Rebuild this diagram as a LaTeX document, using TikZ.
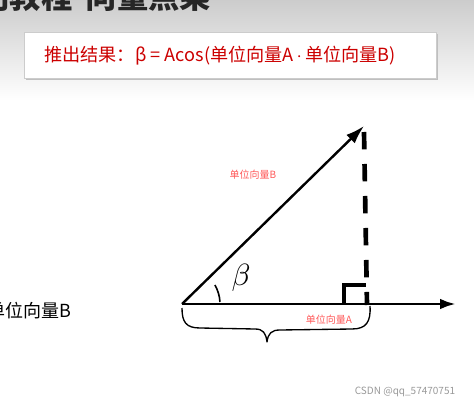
\documentclass[tikz,border=0pt]{standalone}
\usepackage{fontspec}
\setmainfont{Noto Sans CJK SC}
\usetikzlibrary{arrows.meta}

\begin{document}
\begin{tikzpicture}[x=0.75pt,y=-0.75pt,
    redtext/.style={text=red!80!black, font=\fontsize{13.6}{16}\selectfont},
    smalllabel/.style={text=red!65!white, font=\fontsize{7.5}{9}\selectfont},
    vecline/.style={line width=2.2pt, -{Latex[length=12pt,width=8pt]}}]

    % --- Page and slide background ---
    \useasboundingbox (0,0) rectangle (474,409);
    \shade[top color=black!20, bottom color=white] (0,0) rectangle (474,100);

    % Slide title, cut off by the top edge
    \node[anchor=east, text=black!85, font=\fontsize{23.5}{25}\selectfont\bfseries] (title) at (216,-3) {入门教程\hspace{10pt}向量点乘};

    % Result box with a light shadow
    \fill[black!25] (26,34) rectangle (438,80);
    \draw[black!20, fill=white] (24,32) rectangle (436,78);
    \node[redtext] (result) at (220,56) {推出结果：β = Acos(单位向量A\,$\cdot$\,单位向量B)};

    % --- Define Coordinates ---
    % Origin of both vectors
    \coordinate (O) at (182,304);
    % Tip of vector A (horizontal)
    \coordinate (A) at (456,304);
    % Tip of vector B
    \coordinate (B) at (364,126);
    % Top of the dashed drop line and its foot on A
    \coordinate (D) at (364,132);
    \coordinate (P) at (367,305);

    % --- Drawing the Geometry ---

    % Vector A along the base
    \draw[vecline] (O) -- (A);

    % Vector B
    \draw[vecline, line width=1.8pt, -{Latex[length=14pt,width=9pt]}] (O) -- (B);

    % Dashed projection of B onto A
    \draw[line width=3.5pt, dash pattern=on 13pt off 11pt] (D) -- (P);

    % Right angle at the foot
    \draw[line width=3pt] (344,304) -- (344,285) -- (366,285);

    % Angle mark at the origin
    \draw[line width=1.2pt] (O) ++(-30:38) arc[start angle=-30, end angle=-3, radius=38];

    % Hand drawn brace under the projected length
    \draw[line width=1pt, line join=round]
        (182,308) .. controls (182,322) and (186,328) .. (200,328)
        -- (255,329) .. controls (263,329) and (266,333) .. (267,342)
        .. controls (268,333) and (272,330) .. (280,330)
        -- (352,329) .. controls (366,329) and (371,322) .. (370,306);

    % --- Labels ---
    \node (beta) at (241,278) {\scalebox{2.3}{$\beta$}};
    \node[smalllabel] (labelB) at (253,175) {单位向量B};
    \node[smalllabel] (labelA) at (329,320) {单位向量A};
    \node[anchor=east, font=\fontsize{13.5}{15}\selectfont] (side) at (76,311) {单位向量B};
    \node[text=black!40, font=\fontsize{7.5}{9}\selectfont] (mark) at (405,392) {CSDN @qq\_57470751};

\end{tikzpicture}
\end{document}
